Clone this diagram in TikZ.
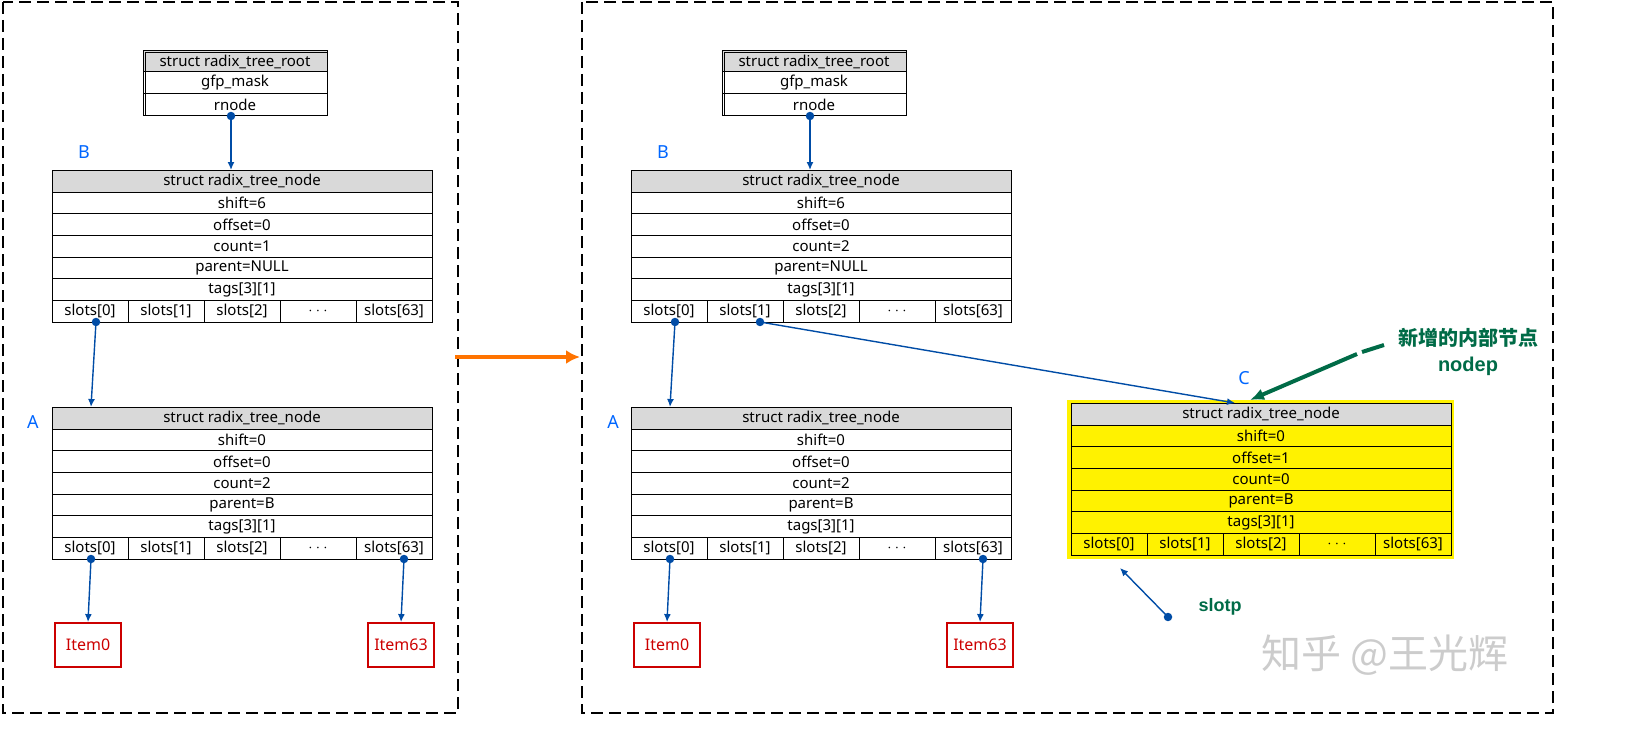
\documentclass[tikz,border=0pt]{standalone}
\usepackage{fontspec}
\setmainfont{Noto Sans}
\newfontfamily\cjk{Noto Sans CJK SC}
\newfontfamily\lsans{Liberation Sans}
\usetikzlibrary{arrows.meta}
\newcommand\roottab[2]{%
 \fill[gray!30] (#1,51) rectangle (#1+184,72);%
 \draw[cell] (#1,51) rectangle (#1+184,116);%
 \draw[cell] (#1+2,53) rectangle (#1+184,116);%
 \draw[cell] (#1,72)--(#1+184,72) (#1,94)--(#1+184,94);%
 \node at (#1+92,61.5) {struct radix\_tree\_root};%
 \node at (#1+92,83) {gfp\_mask};%
 \node (#2) at (#1+92,105) {rnode};}
\newcommand\treenode[8]{%
 \fill[#7] (#1,#2) rectangle (#1+380,#2+152);%
 \fill[gray!30] (#1,#2) rectangle (#1+380,#2+22);%
 \draw[cell] (#1,#2) rectangle (#1+380,#2+152);%
 \foreach \k in {1,...,6}{\draw[cell] (#1,#2+22+21.7*\k-21.7)--(#1+380,#2+22+21.7*\k-21.7);}%
 \foreach \k in {1,...,4}{\draw[cell] (#1+76*\k,#2+130)--(#1+76*\k,#2+152);}%
 \node (#8h) at (#1+190,#2+11) {struct radix\_tree\_node};%
 \node at (#1+190,#2+32.8) {shift=#3};%
 \node at (#1+190,#2+54.5) {offset=#4};%
 \node at (#1+190,#2+76.2) {count=#5};%
 \node at (#1+190,#2+97.9) {parent=#6};%
 \node at (#1+190,#2+119.6) {tags[3][1]};%
 \node at (#1+38,#2+141) {slots[0]};%
 \node at (#1+114,#2+141) {slots[1]};%
 \node at (#1+190,#2+141) {slots[2]};%
 \node at (#1+266,#2+141) {$\cdots$};%
 \node at (#1+342,#2+141) {slots[63]};}
\begin{document}
\begin{tikzpicture}[x=0.5pt,y=-0.5pt,font=\fontsize{7.5}{8}\selectfont,
 cell/.style={draw=black,line width=0.5pt},
 lnk/.style={draw=blue!50!black!70!cyan,line width=0.7pt,-{Latex[length=4pt,width=3.5pt]}},
 dot/.style={circle,fill=blue!50!black!70!cyan,inner sep=1.5pt},
 lbl/.style={text=blue!60!cyan,font=\fontsize{9}{10}\selectfont},
 item/.style={draw=red!80!black,line width=0.9pt,text=red!80!black,minimum width=33pt,minimum height=22pt,inner sep=0pt,font=\fontsize{8}{9}\selectfont},
 grn/.style={text=teal!80!green!70!black},
 box/.style={line width=1.1pt,dash pattern=on 6pt off 3pt}]
\useasboundingbox (0,0) rectangle (1643,749);
\draw[box] (3,2) rectangle (458,713);
\draw[box] (582,2) rectangle (1553,713);
% left
\roottab{143}{rootL}
\treenode{52}{170}{6}{0}{1}{NULL}{white}{BL}
\treenode{52}{407}{0}{0}{2}{B}{white}{AL}
\node[item] (i0L) at (88,645) {Item0};
\node[item] (i63L) at (401,645) {Item63};
\node[lbl] at (84,152) {B};
\node[lbl] at (33,422) {A};
\coordinate (rtL) at (231,116); \coordinate (bL) at (231,170);
\node[dot] at (rtL) {}; \draw[lnk] (rtL)--(bL);
\coordinate (s0L) at (96,322); \coordinate (aTL) at (91,407);
\node[dot] at (s0L) {}; \draw[lnk] (s0L)--(aTL);
\coordinate (a0L) at (91,559); \node[dot] at (a0L) {}; \draw[lnk] (a0L)--(i0L.north);
\coordinate (a63L) at (404,559); \node[dot] at (a63L) {}; \draw[lnk] (a63L)--(i63L.north);
% right
\roottab{722}{rootR}
\treenode{631}{170}{6}{0}{2}{NULL}{white}{BR}
\treenode{631}{407}{0}{0}{2}{B}{white}{AR}
\draw[yellow,line width=2pt] (1069,402) rectangle (1452,557);
\treenode{1071}{403}{0}{1}{0}{B}{yellow}{CR}
\node[item] (i0R) at (667,645) {Item0};
\node[item] (i63R) at (980,645) {Item63};
\node[lbl] at (663,152) {B};
\node[lbl] at (613,422) {A};
\node[lbl] (C) at (1244,378) {C};
\coordinate (rtR) at (810,116); \coordinate (bR) at (810,170);
\node[dot] at (rtR) {}; \draw[lnk] (rtR)--(bR);
\coordinate (s0R) at (675,322); \coordinate (aTR) at (670,407);
\node[dot] at (s0R) {}; \draw[lnk] (s0R)--(aTR);
\coordinate (s1R) at (760,322); \coordinate (cT) at (1235,403);
\node[dot] at (s1R) {}; \draw[lnk] (s1R)--(cT);
\coordinate (a0R) at (670,559); \node[dot] at (a0R) {}; \draw[lnk] (a0R)--(i0R.north);
\coordinate (a63R) at (983,559); \node[dot] at (a63R) {}; \draw[lnk] (a63R)--(i63R.north);
% green annotation
\node[grn,font=\cjk\bfseries\fontsize{10}{11}\selectfont] (nt) at (1468,338) {新增的内部节点};
\node[grn,font=\lsans\bfseries\fontsize{10}{11}\selectfont] (np) at (1468,366) {nodep};
\coordinate (g1) at (1384,345); \coordinate (g2) at (1362,352); \coordinate (g3) at (1357,354); \coordinate (gC) at (1250,400);
\draw[teal!80!green!70!black,line width=2pt] (g1)--(g2);
\draw[teal!80!green!70!black,line width=2pt,-{Latex[length=7pt,width=6pt]}] (g3)--(gC);
% slotp
\node[grn,font=\lsans\bfseries\fontsize{9}{10}\selectfont] (sp) at (1220,607) {slotp};
\coordinate (spd) at (1168,617); \coordinate (spe) at (1120,568);
\node[dot] at (spd) {}; \draw[lnk] (spd)--(spe);
% orange arrow
\coordinate (o1) at (455,357); \coordinate (o2) at (580,357);
\draw[orange!90!red,line width=2.2pt,-{Latex[length=7pt,width=7pt]}] (o1)--(o2);
% watermark
\node[text=gray!40,font=\cjk\fontsize{20}{22}\selectfont] (wm) at (1385,655) {知乎 @王光辉};
\end{tikzpicture}
\end{document}
